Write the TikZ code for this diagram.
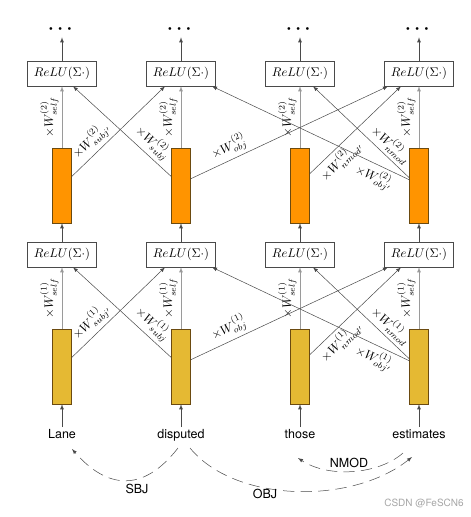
\documentclass[tikz,border=0pt]{standalone}
\usepackage{amsmath, amssymb}
\usepackage{fontspec}
\setsansfont{TeX Gyre Heros}
\usepackage{tikz}
\usetikzlibrary{arrows}
\definecolor{hOrange}{HTML}{FF9400}
\definecolor{hYellow}{HTML}{E5B933}
\definecolor{hEdge}{HTML}{6B4A10}
\definecolor{lineGray}{HTML}{4A4A4A}
\definecolor{selfGray}{HTML}{9A9A9A}
\tikzset{relu/.style={draw=lineGray, fill=white, minimum width=55pt,
  minimum height=20pt, inner sep=1pt}}
\tikzset{hh/.style={draw=hEdge, minimum width=15.2pt, minimum height=60pt,
  inner sep=0pt}}
\tikzset{word/.style={font=\sffamily, inner sep=1pt, text height=7.5pt,
  text depth=2pt, anchor=base}}
\tikzset{dl/.style={font=\sffamily, inner sep=1pt}}
\tikzset{dots/.style={font=\Large, inner sep=1pt}}
\tikzset{lab/.style={text=black, sloped, inner sep=2.5pt}}
\tikzset{up/.style={draw, lineGray, -latex}}
\tikzset{sf/.style={draw, selfGray, -latex}}
\tikzset{cr/.style={draw, lineGray, -latex}}
\tikzset{dep/.style={draw, lineGray, dash pattern=on 9pt off 5pt, -latex}}

\begin{document}
\begin{tikzpicture}[x=0.8pt, y=-0.8pt]
        \useasboundingbox (0,0) rectangle (470,517);
        %% layer 2
        \node (r2a) at (62,73.5) [relu] {$ReLU(\Sigma\cdot)$};
        \node (r2b) at (181,73.5) [relu] {$ReLU(\Sigma\cdot)$};
        \node (r2c) at (300,73.5) [relu] {$ReLU(\Sigma\cdot)$};
        \node (r2d) at (419,73.5) [relu] {$ReLU(\Sigma\cdot)$};
        \node (h2a) at (62,185.5) [hh, fill=hOrange] {};
        \node (h2b) at (181,185.5) [hh, fill=hOrange] {};
        \node (h2c) at (300,185.5) [hh, fill=hOrange] {};
        \node (h2d) at (419,185.5) [hh, fill=hOrange] {};
        \node (ta) at (62,29) [dots] {$\boldsymbol{\cdots}$};
        \node (tb) at (181,29) [dots] {$\boldsymbol{\cdots}$};
        \node (tc) at (300,29) [dots] {$\boldsymbol{\cdots}$};
        \node (td) at (419,29) [dots] {$\boldsymbol{\cdots}$};
        \draw [up, shorten >=2pt] (r2a) -- (ta);
        \draw [up, shorten >=2pt] (r2b) -- (tb);
        \draw [up, shorten >=2pt] (r2c) -- (tc);
        \draw [up, shorten >=2pt] (r2d) -- (td);
        \draw [sf] (h2a) -- (r2a) node [midway, lab, above] {$\times W^{(2)}_{self}$};
        \draw [sf] (h2b) -- (r2b) node [midway, lab, above] {$\times W^{(2)}_{self}$};
        \draw [sf] (h2c) -- (r2c) node [midway, lab, above] {$\times W^{(2)}_{self}$};
        \draw [sf] (h2d) -- (r2d) node [midway, lab, above] {$\times W^{(2)}_{self}$};
        \draw [cr] ([yshift=-23pt]h2a.north east) -- ([xshift=-12.8pt]r2b.south)
            node [pos=.3, lab, above] {$\times W^{(2)}_{subj'}$};
        \draw [cr] ([yshift=-23pt]h2b.north west) -- ([xshift=8.8pt]r2a.south)
            node [pos=.27, lab, above] {$\times W^{(2)}_{subj}$};
        \draw [cr] ([yshift=-24.8pt]h2b.north east) -- ([xshift=-24.8pt]r2d.south)
            node [pos=.22, lab, above] {$\times W^{(2)}_{obj}$};
        \draw [cr] ([yshift=-20.8pt]h2c.north east) -- ([xshift=-14.4pt]r2d.south)
            node [pos=.25, lab, below] {$\times W^{(2)}_{nmod'}$};
        \draw [cr] ([yshift=-24pt]h2d.north west) -- ([xshift=10.4pt]r2c.south)
            node [pos=.27, lab, above] {$\times W^{(2)}_{nmod}$};
        \draw [cr] ([yshift=-25.6pt]h2d.north west) -- ([xshift=24.8pt]r2b.south)
            node [pos=.15, lab, below] {$\times W^{(2)}_{obj'}$};
        %% layer 1
        \node (r1a) at (62,254.5) [relu] {$ReLU(\Sigma\cdot)$};
        \node (r1b) at (181,254.5) [relu] {$ReLU(\Sigma\cdot)$};
        \node (r1c) at (300,254.5) [relu] {$ReLU(\Sigma\cdot)$};
        \node (r1d) at (419,254.5) [relu] {$ReLU(\Sigma\cdot)$};
        \node (h1a) at (62,366.5) [hh, fill=hYellow] {};
        \node (h1b) at (181,366.5) [hh, fill=hYellow] {};
        \node (h1c) at (300,366.5) [hh, fill=hYellow] {};
        \node (h1d) at (419,366.5) [hh, fill=hYellow] {};
        \draw [up] (r1a) -- (h2a);
        \draw [up] (r1b) -- (h2b);
        \draw [up] (r1c) -- (h2c);
        \draw [up] (r1d) -- (h2d);
        \draw [sf] (h1a) -- (r1a) node [midway, lab, above] {$\times W^{(1)}_{self}$};
        \draw [sf] (h1b) -- (r1b) node [midway, lab, above] {$\times W^{(1)}_{self}$};
        \draw [sf] (h1c) -- (r1c) node [midway, lab, above] {$\times W^{(1)}_{self}$};
        \draw [sf] (h1d) -- (r1d) node [midway, lab, above] {$\times W^{(1)}_{self}$};
        \draw [cr] ([yshift=-23pt]h1a.north east) -- ([xshift=-12.8pt]r1b.south)
            node [pos=.3, lab, above] {$\times W^{(1)}_{subj'}$};
        \draw [cr] ([yshift=-23pt]h1b.north west) -- ([xshift=8.8pt]r1a.south)
            node [pos=.27, lab, above] {$\times W^{(1)}_{subj}$};
        \draw [cr] ([yshift=-24.8pt]h1b.north east) -- ([xshift=-24.8pt]r1d.south)
            node [pos=.22, lab, above] {$\times W^{(1)}_{obj}$};
        \draw [cr] ([yshift=-20.8pt]h1c.north east) -- ([xshift=-14.4pt]r1d.south)
            node [pos=.25, lab, below] {$\times W^{(1)}_{nmod'}$};
        \draw [cr] ([yshift=-24pt]h1d.north west) -- ([xshift=10.4pt]r1c.south)
            node [pos=.27, lab, above] {$\times W^{(1)}_{nmod}$};
        \draw [cr] ([yshift=-25.6pt]h1d.north west) -- ([xshift=24.8pt]r1b.south)
            node [pos=.15, lab, below] {$\times W^{(1)}_{obj'}$};
        %% words
        \node (wa) at (62,438) [word] {Lane};
        \node (wb) at (181,438) [word] {disputed};
        \node (wc) at (300,438) [word] {those};
        \node (we) at (419,438) [word] {estimates};
        \draw [up] (wa) -- (h1a);
        \draw [up] (wb) -- (h1b);
        \draw [up] (wc) -- (h1c);
        \draw [up] (we) -- (h1d);
        %% dependency arcs
        \draw [dep] ([shift={(-3,6)}]wb.south) .. controls +(-35,45) and +(35,40)
            .. ([shift={(10,7)}]wa.south);
        \draw [dep] ([shift={(9,6)}]wb.south) .. controls +(45,55) and +(-60,48)
            .. ([shift={(-7,15)}]we.south);
        \draw [dep] ([shift={(-16,11)}]we.south) .. controls +(-25,22) and +(30,20)
            .. ([shift={(-2,16)}]wc.south);
        \node (lsbj) at (137,489) [dl] {SBJ};
        \node (lobj) at (265,494) [dl] {OBJ};
        \node (lnmod) at (349,463) [dl] {NMOD};
        \node (mark) at (424,503) [dl, font=\sffamily\footnotesize, gray!70] {CSDN @FeSCN6};
\end{tikzpicture}
\end{document}
